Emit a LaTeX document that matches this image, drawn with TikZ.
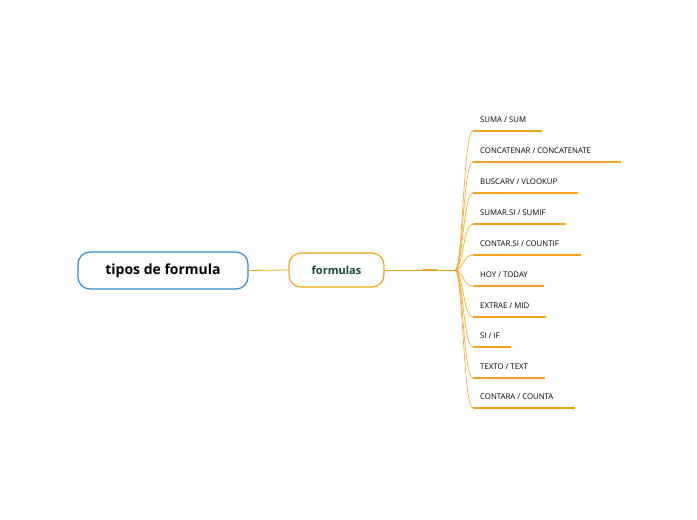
\documentclass[tikz,border=0pt]{standalone}
\usepackage{fontspec}
\setmainfont{Open Sans}
\definecolor{orn}{HTML}{F7A21B}
\definecolor{blu}{HTML}{2C8AD0}
\definecolor{dgreen}{HTML}{0F4A32}
\begin{document}
\begin{tikzpicture}[x=1pt,y=-1pt,
  leaf/.style={anchor=south west,inner sep=0pt,font=\fontsize{7.8}{9}\selectfont},
  uline/.style={draw=orn,line width=1.6pt},
  br/.style={draw=orn,line width=0.6pt}]
\useasboundingbox (0,0) rectangle (697,520);
\node[draw=blu,line width=1.2pt,rounded corners=12pt,minimum width=170pt,minimum height=37pt,font=\fontsize{14}{16}\selectfont\bfseries] (root) at (163,270.5) {tipos de formula};
\node[draw=orn,line width=1.2pt,rounded corners=12pt,minimum width=95pt,minimum height=34pt,text=dgreen,font=\fontsize{11}{13}\selectfont\bfseries] (f) at (336.5,270) {formulas};
\draw[br,line width=0.8pt] (root.east) -- (f.west);
\coordinate (hub) at (455,270);
\draw[br,line width=0.8pt] (f.east) -- (hub);
\draw[orn,line width=1.6pt] (423,270) -- (437,270);
\foreach \y/\e/\t [count=\i] in {131/542/{SUMA / SUM},162/621/{CONCATENAR / CONCATENATE},193/578/{BUSCARV / VLOOKUP},224/566/{SUMAR.SI / SUMIF},255/581/{CONTAR.SI / COUNTIF},286/544/{HOY / TODAY},317/546/{EXTRAE / MID},347/511/{SI / IF},378/545/{TEXTO / TEXT},408/575/{CONTARA / COUNTA}}{
  \coordinate (s\i) at (473,\y);
  \coordinate (e\i) at (\e,\y);
  \draw[uline] (s\i) -- (e\i);
  \node[leaf] (l\i) at (480,\y-8) {\t};
  \draw[br] (hub) .. controls (463,270) and (463,\y) .. (s\i);
}
\end{tikzpicture}
\end{document}
